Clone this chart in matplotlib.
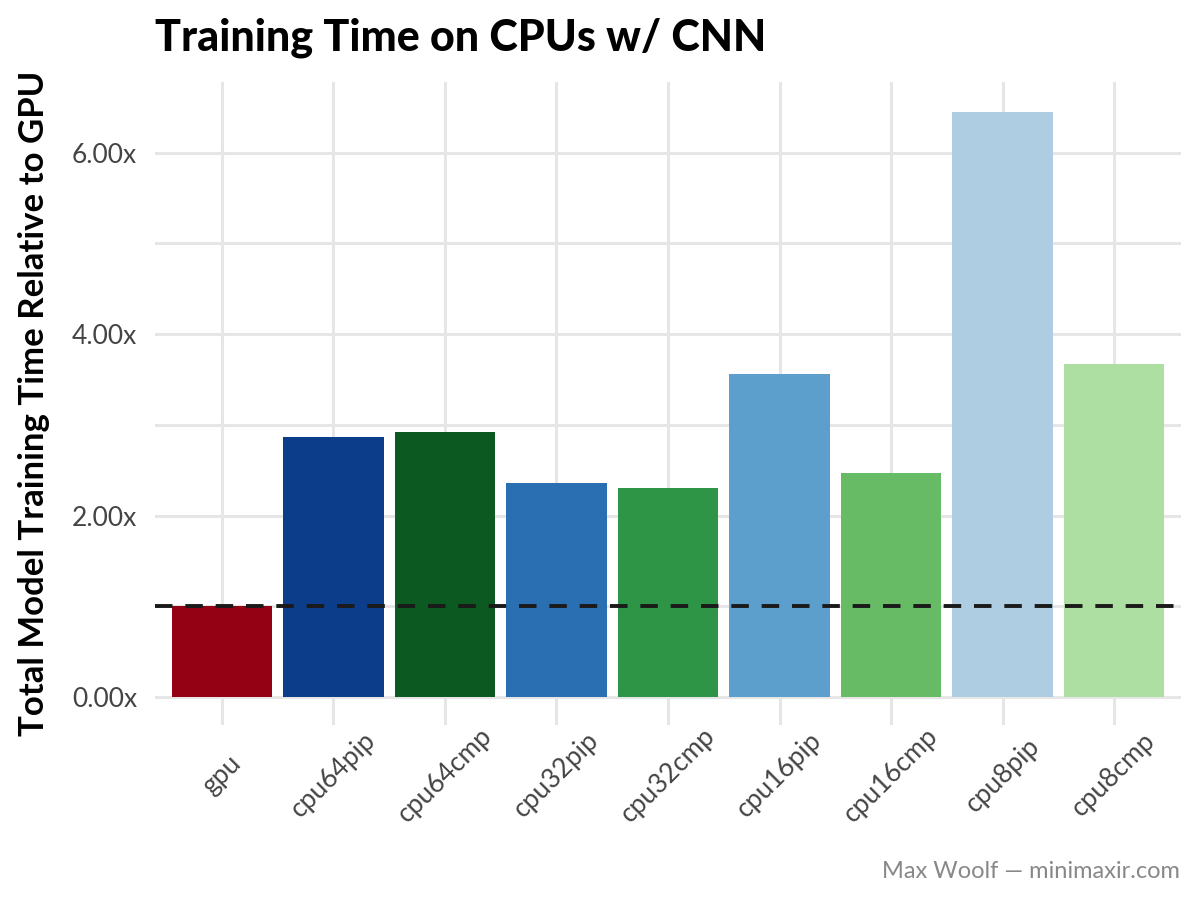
import matplotlib.pyplot as plt
from matplotlib.ticker import FuncFormatter, MultipleLocator

plt.rcParams['font.family'] = ['Lato', 'DejaVu Sans']

# values
models = ['gpu', 'cpu64pip', 'cpu64cmp', 'cpu32pip', 'cpu32cmp',
          'cpu16pip', 'cpu16cmp', 'cpu8pip', 'cpu8cmp']
rel_time = [1.00, 2.87, 2.92, 2.36, 2.30, 3.56, 2.47, 6.45, 3.67]
colors = ['#940014', '#0c3d8a', '#0c5a22', '#2a6fb2', '#2e9446',
          '#5c9fcc', '#66bb64', '#afcde2', '#addfa2']

fig = plt.figure(figsize=(12, 9), dpi=100)
ax = fig.add_axes([155 / 1200, 1 - 725 / 900, (1181 - 155) / 1200, (725 - 82) / 900])

x = range(len(models))
ax.bar(x, rel_time, width=0.9, color=colors, zorder=2)
ax.axhline(1, color='#1a1a1a', linestyle=(0, (4.5, 3.3)), linewidth=2.8, zorder=3)

ax.set_xlim(-0.6, len(models) - 0.4)
ax.set_ylim(-0.31, 6.78)
ax.yaxis.set_major_locator(MultipleLocator(2))
ax.yaxis.set_minor_locator(MultipleLocator(1))
ax.yaxis.set_major_formatter(FuncFormatter(lambda v, p: f'{v:.2f}x'))

ax.set_xticks(list(x))
ax.set_xticklabels(models, rotation=45, ha='center', va='center', rotation_mode='anchor')

ax.grid(True, which='both', color='#e6e6e6', linewidth=2.2, zorder=0)
ax.set_axisbelow(True)
for s in ax.spines.values():
    s.set_visible(False)
ax.tick_params(axis='both', which='both', length=0, labelcolor='#444444')
ax.tick_params(axis='y', labelsize=19, pad=13)
ax.tick_params(axis='x', labelsize=19, pad=36)

ax.set_ylabel('Total Model Training Time Relative to GPU', fontsize=25,
              fontweight='bold', va='center')
ax.yaxis.set_label_coords(-0.118, 0.5)
fig.text(155 / 1200, 1 - 50 / 900, 'Training Time on CPUs w/ CNN', fontsize=31,
         fontweight='black', va='baseline', ha='left')
fig.text(1180 / 1200, 1 - 872 / 900, 'Max Woolf \u2014 minimaxir.com', fontsize=17,
         color='#888888', ha='right', va='center')

fig.savefig('out.png', dpi=100)
